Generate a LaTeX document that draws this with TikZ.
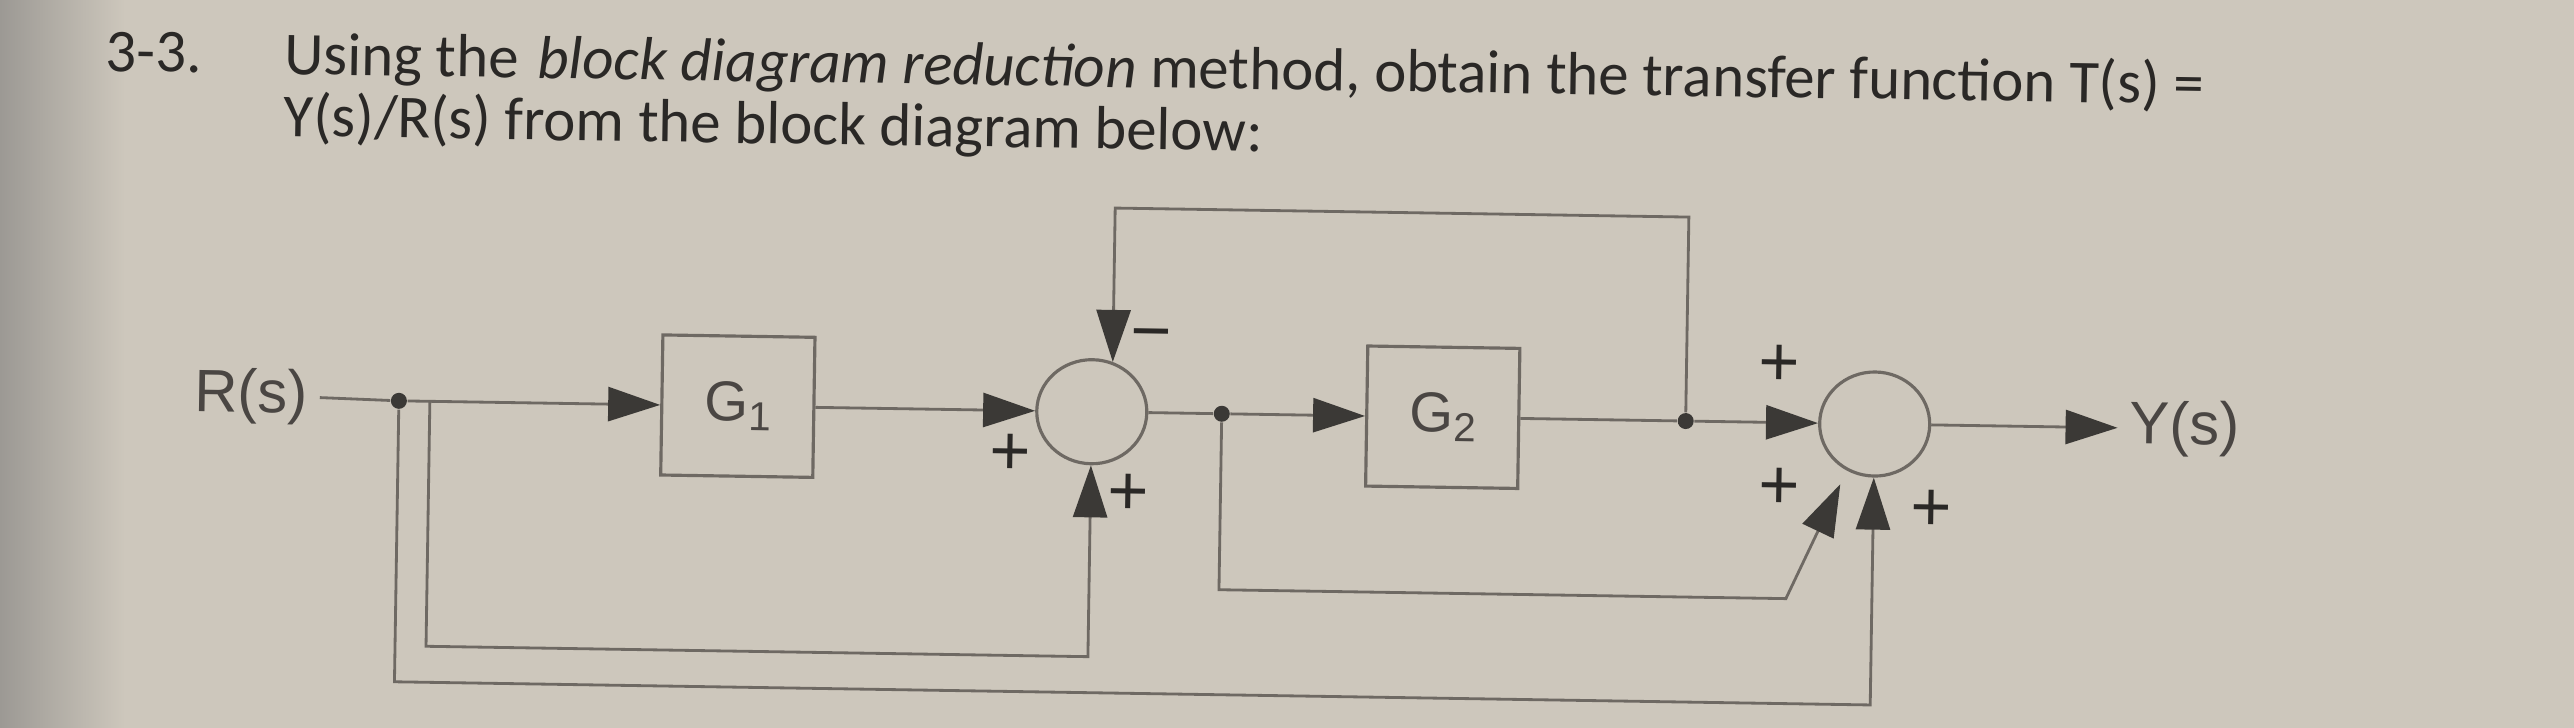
\documentclass[tikz,border=0pt]{standalone}
\usepackage{fontspec}
\setmainfont{Carlito}
\newfontfamily\diagfont{Liberation Sans}
\usetikzlibrary{arrows.meta,shapes.geometric}

\definecolor{paper}{HTML}{CDC7BC}
\definecolor{edgelight}{HTML}{9C9994}
\definecolor{edgeshade}{HTML}{85827E}
\definecolor{ink}{HTML}{2A2826}
\definecolor{linegray}{HTML}{6E6963}
\definecolor{tipgray}{HTML}{3B3936}
\definecolor{labelgray}{HTML}{4A4643}

\begin{document}
\begin{tikzpicture}[x=0.01cm,y=-0.01cm]

        \tikzstyle{block}=[draw=linegray,line width=0.9pt,rectangle,minimum width=1.52cm,minimum height=1.4cm,font=\diagfont\fontsize{16}{18}\selectfont,text=labelgray]
        \tikzstyle{sum}=[draw=linegray,line width=0.9pt,ellipse,minimum width=1.1cm,minimum height=1.04cm,inner sep=0pt]
        \tikzstyle{dot}=[circle,fill=tipgray,inner sep=0pt,minimum size=0.16cm]
        \tikzstyle{sig}=[draw=linegray,line width=0.8pt,-{Triangle[length=0.52cm,width=0.34cm,color=tipgray]}]
        \tikzstyle{wire}=[draw=linegray,line width=0.8pt]
        \tikzstyle{sign}=[font=\diagfont\fontsize{20}{22}\selectfont,text=ink,inner sep=0pt]
        \tikzstyle{io}=[font=\diagfont\fontsize{17}{19}\selectfont,text=labelgray]
        \tikzstyle{title}=[font=\fontsize{17.3}{17.6pt}\selectfont,text=ink,inner sep=0pt,anchor=base west,align=left]

        \path[use as bounding box,fill=paper] (0,0) rectangle (2574,728);
        \shade[left color=edgelight,middle color=edgeshade,right color=paper] (0,0) rectangle (125,728);

        \begin{scope}[rotate around={-0.9:(1300,400)},transform shape]

            \node[title] (num) at (100,90) {3-3.};
            \node[title] (question) at (279,152) {Using the\kern1.5pt{} \textit{block diagram reduction} method, obtain the transfer function T(s) =\\Y(s)/R(s) from the block diagram below:};

            \node[io] (rlab) at (251,413) {R(s)};
            \node[io,anchor=west] (ylab) at (2118,415) {Y(s)};

            \node[block] (g1) at (738,415) {G\raisebox{-2.8pt}{\fontsize{11.5}{11.5}\selectfont 1}};
            \node[block] (g2) at (1443,415) {G\raisebox{-2.8pt}{\fontsize{11.5}{11.5}\selectfont 2}};

            \node[sum] (sum1) at (1092,415) {};
            \node[sum] (sum2) at (1875,415) {};

            \foreach \nm / \px in {dot1/399,dot2/1222,dot3/1686} {
                \node[dot] (\nm) at (\px,415) {};
            }

            \foreach \nm / \px / \py in {plus11/1011/459,plus12/1130/497,plus21/1779/358,plus22/1781/481,plus23/1933/501} {
                \node[sign] (\nm) at (\px,\py) {+};
            }
            \node[sign] (minus1) at (1150,344) {−};

            \coordinate (tap) at (430,415);
            \coordinate (innerlow) at (430,660);
            \coordinate (outerlow) at (399,696);
            \coordinate (midlow) at (1222,591);
            \coordinate (midend) at (1789,591);
            \coordinate (fbtop) at (1686,211);

            \draw[wire] (rlab.east) -- (dot1);
            \draw[sig] (dot1) -- (g1);
            \draw[sig] (g1) -- (sum1);
            \draw[wire] (sum1) -- (dot2);
            \draw[sig] (dot2) -- (g2);
            \draw[wire] (g2) -- (dot3);
            \draw[sig] (dot3) -- (sum2);
            \draw[sig] (sum2) -- (ylab.west);

            \draw[sig] (dot3) -- (fbtop) -| (sum1.68);
            \draw[sig] (tap) -- (innerlow) -| (sum1.south);
            \draw[sig] (dot1) -- (outerlow) -| (sum2.south);
            \draw[sig,shorten >=0.15cm] (dot2) -- (midlow) -- (midend) -- (sum2.240);

        \end{scope}

\end{tikzpicture}
\end{document}
